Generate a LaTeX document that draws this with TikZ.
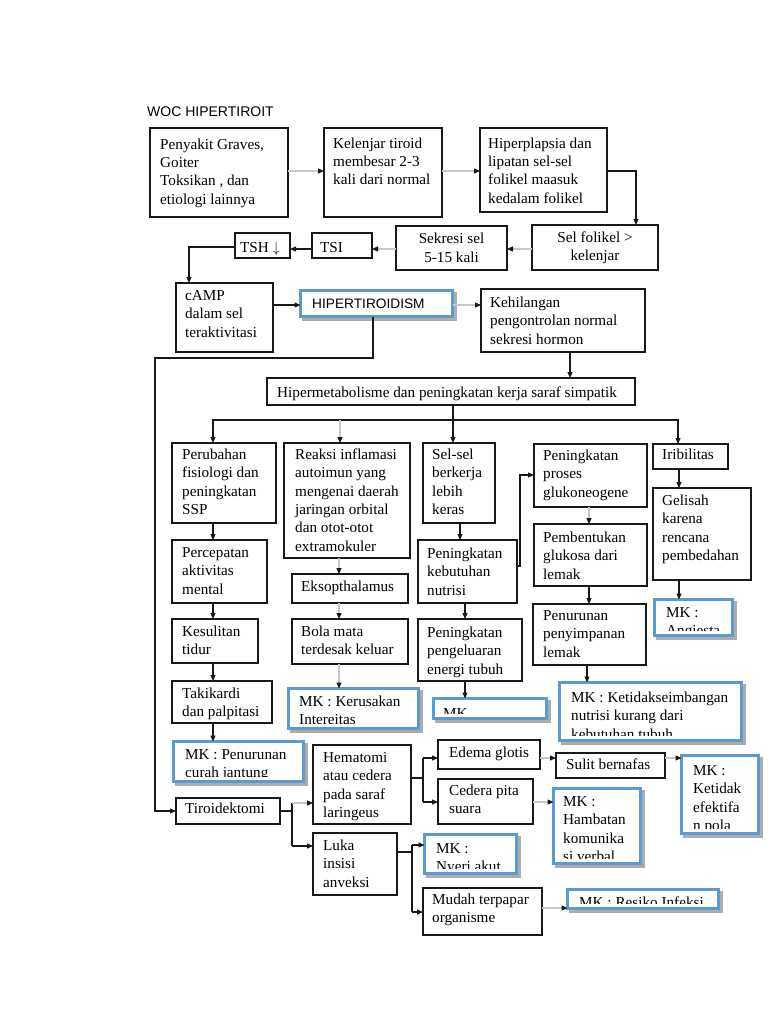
\documentclass[tikz,border=0pt]{standalone}
\usepackage{fontspec}
\setmainfont{Liberation Serif}
\newfontfamily\sansf{Liberation Sans}
\usetikzlibrary{arrows.meta}
\definecolor{mkblue}{RGB}{91,155,213}
\definecolor{lgray}{RGB}{200,200,200}
\definecolor{dline}{RGB}{25,25,25}
\newcommand\tstrut{\rule{0pt}{11pt}}
\newcommand\hfont{\sansf\fontsize{13.7}{16}\selectfont}
\tikzset{
  box/.style={draw=dline, line width=1.1pt, rectangle, inner sep=0pt, outer sep=0pt, fill=white},
  mkbox/.style={draw=mkblue, line width=3pt, rectangle, inner sep=0pt, outer sep=0pt, fill=white},
  txt/.style={anchor=north west, inner sep=0pt, align=left, font=\fontsize{15.2}{18.4}\selectfont},
  ctxt/.style={align=center, font=\fontsize{15.2}{18.4}\selectfont},
  arr/.style={draw=dline, line width=1.1pt, -{Triangle[length=6pt,width=5pt]}},
  larr/.style={draw=lgray, line width=1.1pt, -{Triangle[length=6pt,width=5pt,color=dline]}},
  lin/.style={draw=dline, line width=1.1pt}
}
% plain box: name, x1, y1, x2, y2, dx, dy, text
\newcommand\bx[8]{%
  \pgfmathsetmacro\bxw{#4-#2}\pgfmathsetmacro\bxh{#5-#3}%
  \node[box,minimum width=\bxw pt,minimum height=\bxh pt] (#1) at ({(#2+#4)/2},{(#3+#5)/2}) {};
  \node[txt] (#1-t) at ({#2+#6},{#3+#7}) {\tstrut #8};}
% centred box
\newcommand\cbx[6]{%
  \pgfmathsetmacro\bxw{#4-#2}\pgfmathsetmacro\bxh{#5-#3}%
  \node[box,ctxt,minimum width=\bxw pt,minimum height=\bxh pt] (#1) at ({(#2+#4)/2},{(#3+#5)/2}) {#6};}
% blue MK box with shadow, clipped text
\newcommand\mk[8]{%
  \pgfmathsetmacro\bxw{#4-#2-3}\pgfmathsetmacro\bxh{#5-#3-3}%
  \fill[gray!65] ({#2+3},{#3+3}) rectangle ({#4+2.5},{#5+2.5});
  \node[mkbox,minimum width=\bxw pt,minimum height=\bxh pt] (#1) at ({(#2+#4)/2},{(#3+#5)/2}) {};
  \begin{scope}
    \clip ({#2+3},{#3+3}) rectangle ({#4-3},{#5-7});
    \node[txt] (#1-t) at ({#2+#6},{#3+#7}) {\tstrut #8};
  \end{scope}}
\begin{document}
\begin{tikzpicture}[x=1pt,y=-1pt]
\fill[white] (0,0) rectangle (768,1024);
\useasboundingbox (0,0) rectangle (768,1024);

\node[anchor=base west, inner sep=0pt, font=\sansf\fontsize{14}{16}\selectfont] (title) at (147,117) {WOC HIPERTIROIT};

% top rows
\bx{A}{150}{128}{288}{217}{10}{10}{Penyakit Graves,\\Goiter\\Toksikan , dan\\etiologi lainnya}
\bx{B}{324}{128}{442}{217}{9}{9}{Kelenjar tiroid\\membesar 2-3\\kali dari normal}
\bx{C}{480}{128}{607}{212}{8}{9}{Hiperplapsia dan\\lipatan sel-sel\\folikel maasuk\\kedalam folikel}
\cbx{D}{532}{225}{658}{270}{Sel folikel >\\kelenjar}
\cbx{E}{396}{226}{507}{270}{Sekresi sel\\5-15 kali}
\bx{F}{312}{233}{372}{258}{8}{8}{TSI}
\bx{G}{235}{233}{290}{258}{5}{8}{TSH $\downarrow$}
\bx{H}{176}{283}{273}{352}{9}{6}{cAMP\\dalam sel\\teraktivitasi}
\mk{I}{299}{289}{454}{318}{13}{8}{\hfont HIPERTIROIDISM}
\bx{J}{481}{289}{645}{352}{9}{7}{Kehilangan\\pengontrolan normal\\sekresi hormon}
\bx{K}{267}{378}{635}{405}{10}{8}{Hipermetabolisme dan peningkatan kerja saraf simpatik}

% column 1
\bx{P1}{172}{443}{276}{523}{10}{5}{Perubahan\\fisiologi dan\\peningkatan\\SSP}
\bx{P2}{172}{540}{267}{603}{10}{6}{Percepatan\\aktivitas\\mental}
\bx{P3}{172}{619}{258}{663}{10}{6}{Kesulitan\\tidur}
\bx{P4}{172}{681}{272}{723}{10}{6}{Takikardi\\dan palpitasi}
\mk{P5}{172}{740}{305}{783}{13}{8}{MK : Penurunan\\curah jantung}
% column 2
\bx{R1}{284}{443}{410}{558}{11}{5}{Reaksi inflamasi\\autoimun yang\\mengenai daerah\\jaringan orbital\\dan otot-otot\\extramokuler}
\bx{R2}{292}{574}{408}{603}{9}{6}{Eksopthalamus}
\bx{R3}{292}{619}{408}{664}{9}{6}{Bola mata\\terdesak keluar}
\mk{R4}{287}{687}{420}{730}{12}{8}{MK : Kerusakan\\Intereitas}
% column 3
\bx{S1}{423}{443}{495}{523}{9}{5}{Sel-sel\\berkerja\\lebih\\keras}
\bx{S2}{418}{540}{517}{603}{9}{7}{Peningkatan\\kebutuhan\\nutrisi}
\bx{S3}{418}{619}{522}{681}{9}{7}{Peningkatan\\pengeluaran\\energi tubuh}
\mk{S4}{432}{697}{548}{720}{11}{10}{MK}
% column 4
\bx{U1}{534}{444}{647}{507}{9}{5}{Peningkatan\\proses\\glukoneogene}
\bx{U2}{534}{524}{647}{586}{9}{7}{Pembentukan\\glukosa dari\\lemak}
\bx{U3}{533}{604}{646}{665}{10}{5}{Penurunan\\penyimpanan\\lemak}
\mk{U4}{558}{681}{743}{742}{13}{10}{MK : Ketidakseimbangan\\nutrisi kurang dari\\kebutuhan tubuh}
% column 5
\bx{V1}{653}{444}{728}{469}{9}{4}{Iribilitas}
\bx{V2}{653}{488}{751}{580}{9}{6}{Gelisah\\karena\\rencana\\pembedahan}
\mk{V3}{653}{598}{734}{637}{13}{8}{MK :\\Angiesta}
% lower part
\bx{T}{176}{798}{280}{824}{9}{4}{Tiroidektomi}
\bx{W1}{313}{745}{411}{824}{10}{6}{Hematomi\\atau cedera\\pada saraf\\laringeus}
\bx{W2}{313}{833}{397}{895}{10}{6}{Luka\\insisi\\anveksi}
\bx{X1}{438}{740}{540}{769}{11}{6}{Edema glotis}
\bx{X2}{438}{779}{533}{824}{11}{5}{Cedera pita\\suara}
\bx{X3}{556}{753}{665}{778}{10}{5}{Sulit bernafas}
\mk{X4}{680}{754}{760}{835}{13}{10}{MK :\\Ketidak\\efektifa\\n pola}
\mk{X5}{552}{787}{642}{865}{11}{8}{MK :\\Hambatan\\komunika\\si verbal}
\mk{Y1}{423}{833}{518}{875}{13}{9}{MK :\\Nyeri akut}
\bx{Y2}{423}{888}{542}{935}{9}{5}{Mudah terpapar\\organisme}
\mk{Y3}{566}{888}{720}{910}{13}{8}{MK : Resiko Infeksi}

% junction coordinates
\coordinate (jk) at (453,420);
\coordinate (jt) at (292,811);
\coordinate (jw) at (423,778);
\coordinate (jl) at (412,852);

% connectors top
\draw[larr] (A.east |- 0,171) -- (B.west |- 0,171);
\draw[larr] (B.east |- 0,171) -- (C.west |- 0,171);
\draw[arr] (C.east |- 0,171) -| (D.north -| 636,0);
\draw[larr] (D.west |- 0,249) -- (E.east |- 0,249);
\draw[larr] (E.west |- 0,249) -- (F.east |- 0,249);
\draw[arr] (F.west |- 0,249) -- (G.east |- 0,249);
\draw[arr] (G.west |- 0,247) -| (H.north -| 189,0);
\draw[arr] (H.east |- 0,305) -- (I.west |- 0,305);
\draw[larr] (I.east |- 0,305) -- (J.west |- 0,305);
\draw[arr] (I.south -| 373,0) |- (155,358) |- (T.west |- 0,811);
\draw[arr] (J.south -| 570,0) -- (K.north -| 570,0);
\draw[arr] (K.south -| jk) -- (S1.north -| jk);
\draw[arr] (jk) -| (P1.north -| 213,0);
\draw[arr] (jk) -| (V1.north -| 678,0);
\draw[larr] (R1.north |- jk) ++(-7,0) -- (R1.north -| 340,0);

% column connectors
\draw[arr] (P1.south -| 213,0) -- (P2.north -| 213,0);
\draw[arr] (P2.south -| 213,0) -- (P3.north -| 213,0);
\draw[arr] (P3.south -| 213,0) -- (P4.north -| 213,0);
\draw[arr] (P4.south -| 213,0) -- (P5.north -| 213,0);
\draw[larr] (R1.south -| 339,0) -- (R2.north -| 339,0);
\draw[larr] (R2.south -| 339,0) -- (R3.north -| 339,0);
\draw[larr] (R3.south -| 339,0) -- (R4.north -| 339,0);
\draw[arr] (S1.south -| 460,0) -- (S2.north -| 460,0);
\draw[arr] (S2.south -| 465,0) -- (S3.north -| 465,0);
\draw[arr] (S3.south -| 465,0) -- (S4.north -| 465,0);
\draw[arr] (S2.east |- 0,566) -| (520,475) -- (U1.west |- 0,475);
\draw[larr] (U1.south -| 589,0) -- (U2.north -| 589,0);
\draw[arr] (U2.south -| 589,0) -- (U3.north -| 589,0);
\draw[arr] (U3.south -| 587,0) -- (U4.north -| 587,0);
\draw[arr] (V1.south -| 679,0) -- (V2.north -| 679,0);
\draw[arr] (V2.south -| 679,0) -- (V3.north -| 679,0);

% lower connectors
\draw[lin] (T.east |- jt) -- (jt);
\draw[lin] (jt |- 0,803) -- (jt |- 0,846);
\draw[larr] (jt |- 0,803) -- (W1.west |- 0,803);
\draw[arr] (jt |- 0,846) -- (W2.west |- 0,846);
\draw[lin] (W1.east |- jw) -- (jw);
\draw[lin] (jw |- 0,758) -- (jw |- 0,802);
\draw[arr] (jw |- 0,758) -- (X1.west |- 0,758);
\draw[arr] (jw |- 0,802) -- (X2.west |- 0,802);
\draw[larr] (X1.east |- 0,758) -- (X3.west |- 0,758);
\draw[larr] (X3.east |- 0,758) -- (X4.west |- 0,758);
\draw[larr] (X2.east |- 0,802) -- (X5.west |- 0,802);
\draw[lin] (W2.east |- jl) -- (jl);
\draw[lin] (jl |- 0,845) -- (jl |- 0,912);
\draw[arr] (jl |- 0,845) -- (Y1.west |- 0,845);
\draw[arr] (jl |- 0,912) -- (Y2.west |- 0,912);
\draw[larr] (Y2.east |- 0,908) -- (Y3.west |- 0,908);
\end{tikzpicture}
\end{document}
